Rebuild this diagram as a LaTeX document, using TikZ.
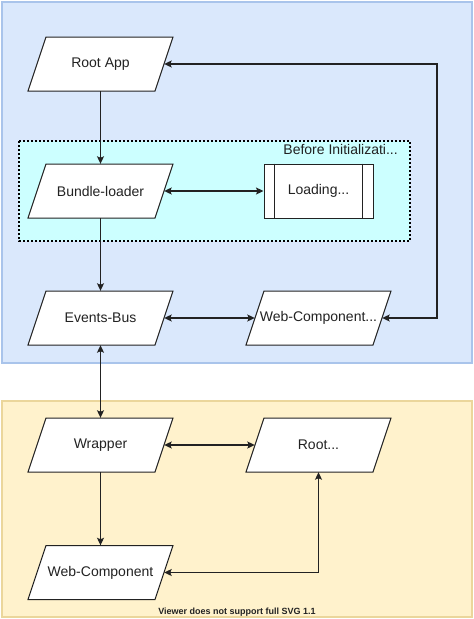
\documentclass[tikz,border=0pt]{standalone}
\usepackage{fontspec}
\setmainfont{Liberation Sans}
\usetikzlibrary{calc,arrows.meta}
\definecolor{bluefill}{HTML}{DAE8FC}
\definecolor{blueline}{HTML}{A9C4EB}
\definecolor{yelfill}{HTML}{FFF2CC}
\definecolor{yelline}{HTML}{EBD69B}
\definecolor{cyanfill}{HTML}{CCFFFF}
\definecolor{ink}{HTML}{222222}
\tikzset{
  shapeline/.style={draw=ink,line width=1pt,fill=white},
  ptext/.style={minimum width=127pt,minimum height=54pt,inner sep=0pt,font=\fontsize{14}{16}\selectfont,text=ink},
  conn/.style={draw=ink,line width=1.1pt,-{Stealth[length=7.5pt,width=7pt,inset=1.5pt]}},
  both/.style={draw=ink,line width=1.1pt,{Stealth[length=7.5pt,width=7pt,inset=1.5pt]}-{Stealth[length=7.5pt,width=7pt,inset=1.5pt]}},
}
\newcommand{\paranode}[3]{%
  \draw[shapeline] ($(#2)+(-72.5,27)$) -- ($(#2)+(54.5,27)$) -- ($(#2)+(72.5,-27)$) -- ($(#2)+(-54.5,-27)$) -- cycle;
  \node[ptext] (#1) at (#2) {#3};
}
\begin{document}
\begin{tikzpicture}[x=1pt,y=-1pt]
\useasboundingbox (0,0) rectangle (474,619);
\fill[white] (0,0) rectangle (474,619);
% containers
\draw[fill=bluefill,draw=blueline,line width=1.5pt] (2,2) rectangle (472,363);
\draw[fill=yelfill,draw=yelline,line width=1.5pt] (2,401) rectangle (472,617);
% dotted group
\draw[fill=cyanfill,draw=black,line width=1.2pt,dash pattern=on 2pt off 2pt] (19,141) rectangle (410,241);
\node[anchor=east,font=\fontsize{14}{16}\selectfont,text=ink,inner sep=0pt] (grp) at (398,149) {Before Initializati...};
% nodes
\paranode{root}{100.5,64}{Root App}
\paranode{bl}{100.5,191}{Bundle-loader}
\paranode{eb}{100.5,318}{Events-Bus}
\paranode{wc1}{318.5,318}{Web-Component...}
\paranode{wr}{100.5,445}{Wrapper}
\paranode{rt}{318.5,445}{Root...}
\paranode{wc2}{100.5,572.5}{Web-Component}
% process box
\node[draw=ink,line width=1pt,fill=white,minimum width=109pt,minimum height=54pt,inner sep=0pt,font=\fontsize{14}{16}\selectfont,text=ink] (load) at (318.5,191) {Loading...};
\draw[draw=ink,line width=1pt] ([xshift=11pt]load.north west) -- ([xshift=11pt]load.south west);
\draw[draw=ink,line width=1pt] ([xshift=-11pt]load.north east) -- ([xshift=-11pt]load.south east);
% connectors
\coordinate (loopc) at (437,64);
\draw[conn] (root.south) -- (bl.north);
\draw[both] (bl.east) -- (load.west);
\draw[conn] (bl.south) -- (eb.north);
\draw[both] (eb.east) -- (wc1.west);
\draw[both] (root.east) -- (loopc) |- (wc1.east);
\draw[both] (eb.south) -- (wr.north);
\draw[both] (wr.east) -- (rt.west);
\draw[conn] (wr.south) -- (wc2.north);
\draw[both] (wc2.east) -| (rt.south);
% footer
\node[font=\bfseries\fontsize{9}{10}\selectfont,text=ink] (foot) at (237,612) {Viewer does not support full SVG 1.1};
\end{tikzpicture}
\end{document}
